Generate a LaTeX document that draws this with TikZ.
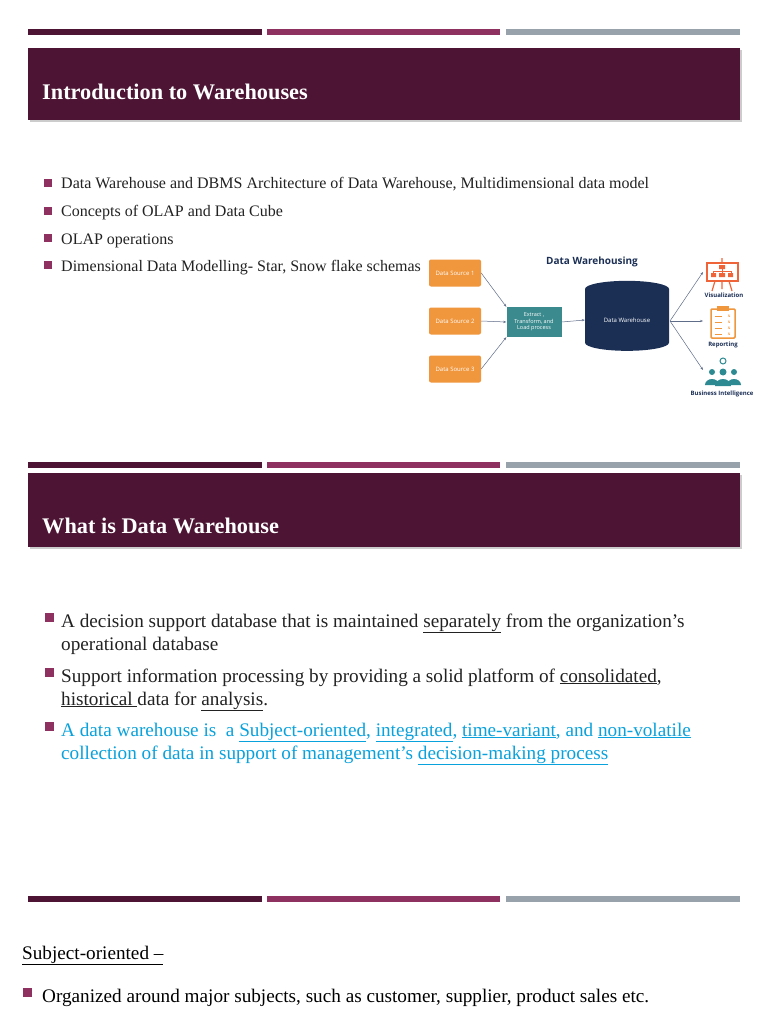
\documentclass[tikz,border=0pt]{standalone}
\usepackage{fontspec}
\setmainfont{Liberation Serif}
\newfontfamily\uisans{Open Sans}
\usetikzlibrary{shapes.geometric,arrows.meta}
\definecolor{plum}{HTML}{4D1533}
\definecolor{mag}{HTML}{8E3060}
\definecolor{greybar}{HTML}{98A2AA}
\definecolor{orng}{HTML}{F0963C}
\definecolor{teal}{HTML}{3A8A8E}
\definecolor{navy}{HTML}{1B2F55}
\definecolor{cyanT}{HTML}{0AA2DC}
\definecolor{iconO}{HTML}{F0643A}
\definecolor{iconT}{HTML}{2E8A92}
\definecolor{txt}{HTML}{222222}
\tikzset{
 bullet/.style={fill=mag,minimum size=8pt,inner sep=0pt,anchor=center},
 item/.style={anchor=base west,inner sep=0pt,text=txt},
 src/.style={fill=orng,rounded corners=2pt,minimum width=52pt,minimum height=27pt,inner sep=0pt,text=white,font=\uisans\fontsize{6}{7}\selectfont},
 con/.style={draw=navy!70,line width=0.5pt,-{Stealth[length=3pt]}},
 ilab/.style={font=\uisans\bfseries\fontsize{6}{7}\selectfont,text=navy,inner sep=0pt}
}
\begin{document}
\begin{tikzpicture}[x=1pt,y=-1pt]
\useasboundingbox (0,0) rectangle (768,1024);
\fill[white] (0,0) rectangle (768,1024);
\foreach \y in {29,462,896}{
 \fill[plum] (28,\y) rectangle (262,\y+6);
 \fill[mag] (267,\y) rectangle (500,\y+6);
 \fill[greybar] (506,\y) rectangle (740,\y+6);
}
\fill[gray!40] (30,50) rectangle (742,122);
\fill[plum] (28,48) rectangle (740,120);
\fill[gray!40] (30,475) rectangle (742,549);
\fill[plum] (28,473) rectangle (740,547);
\node[anchor=base west,text=white,font=\bfseries\fontsize{22.3}{25}\selectfont,inner sep=0pt] (t1) at (42,100) {Introduction to Warehouses};
\node[anchor=base west,text=white,font=\bfseries\fontsize{22.3}{25}\selectfont,inner sep=0pt] (t2) at (42,533) {What is Data Warehouse};
\foreach \y/\s [count=\i] in {189/{Data Warehouse and DBMS Architecture of Data Warehouse, Multidimensional data model},217/{Concepts of OLAP and Data Cube},244/{OLAP operations},271/{Dimensional Data Modelling- Star, Snow flake schemas}}{
 \node[bullet] (b\i) at (48,\y-6) {};
 \node[item,font=\fontsize{16}{19}\selectfont] (i\i) at (61,\y) {\s};
}
% diagram
\node[font=\uisans\bfseries\fontsize{10}{12}\selectfont,text=navy] (dwt) at (592,262) {Data Warehousing};
\node[src] (s1) at (455,273) {Data Source 1};
\node[src] (s2) at (455,321) {Data Source 2};
\node[src] (s3) at (455,369) {Data Source 3};
\node[fill=teal,minimum width=55pt,minimum height=30pt,inner sep=0pt,text=white,align=center,font=\uisans\fontsize{5.5}{6.5}\selectfont] (etl) at (534,322) {Extract ,\\Transform, and\\Load process};
\node[cylinder,shape border rotate=90,aspect=0.35,fill=navy,minimum width=84pt,minimum height=70pt,inner sep=0pt,text=white,font=\uisans\fontsize{6}{7}\selectfont] (dw) at (627,320) {Data Warehouse};
\draw[con] (s1.east) -- (etl.north west);
\draw[con] (s2.east) -- (etl.west);
\draw[con] (s3.east) -- (etl.south west);
\draw[con] (etl.east) -- (dw.west);
\coordinate (fan) at (670,321);
\coordinate (e1) at (703,272);
\coordinate (e2) at (703,321);
\coordinate (e3) at (703,370);
\draw[con] (fan) -- (e1);
\draw[con] (fan) -- (e2);
\draw[con] (fan) -- (e3);
% visualization icon
\draw[iconO,line width=1.5pt] (707,263) rectangle (738,281);
\draw[iconO,line width=1.2pt] (722,258) -- (722,263) (715,281) -- (712,291) (729,281) -- (732,291) (722,281)--(722,289);
\fill[iconO] (719,265) rectangle (725,269) (711,273) rectangle (716,277) (719,273) rectangle (725,277) (728,273) rectangle (733,277);
\draw[iconO,line width=0.8pt] (722,269)--(722,273) (713,273)--(713,271)--(731,271)--(731,273);
\node[ilab] (vl) at (724,295) {Visualization};
% reporting icon
\draw[orng,line width=1.5pt,rounded corners=1pt] (711,309) rectangle (735,338);
\fill[orng] (717,306) rectangle (729,311);
\foreach \yy in {316,322,328,334}{\draw[orng,line width=1pt] (715,\yy)--(722,\yy); \node[text=orng,inner sep=0pt,font=\fontsize{5}{5}\selectfont\bfseries] at (729,\yy) {x};}
\node[ilab] (rl) at (723,345) {Reporting};
% BI icon
\draw[iconT,line width=1pt] (723,361) circle (3pt);
\foreach \xx/\r in {712/3,734/3,723/3.5}{\fill[iconT] (\xx,372) circle (\r pt);}
\fill[iconT] (705,385) arc (180:360:7 and 6) -- cycle;
\fill[iconT] (727,385) arc (180:360:7 and 6) -- cycle;
\fill[iconT] (715,386) arc (180:360:8 and 7) -- cycle;
\node[ilab] (bl) at (722,394) {Business Intelligence};
% section 2
\tikzset{big/.style={item,font=\fontsize{19.2}{23}\selectfont,align=left}}
\node[bullet,minimum size=9pt] (c1) at (49,617) {};
\node[big] (j1) at (61,627) {A decision support database that is maintained \underline{separately} from the organization's};
\node[big] (j1b) at (61,650) {operational database};
\node[bullet,minimum size=9pt] (c2) at (49,672) {};
\node[big] (j2) at (61,682) {Support information processing by providing a solid platform of \underline{consolidated},};
\node[big] (j2b) at (61,705) {\underline{historical }data for \underline{analysis}.};
\node[bullet,minimum size=9pt] (c3) at (49,726) {};
\node[big,text=cyanT] (j3) at (61,736) {A data warehouse is\ \ a \underline{Subject-oriented}, \underline{integrated}, \underline{time-variant}, and \underline{non-volatile}};
\node[big,text=cyanT] (j3b) at (61,759) {collection of data in support of management's \underline{decision-making process}};
% section 3
\node[item,font=\fontsize{19.2}{22}\selectfont,text=black] (so) at (22,959) {\underline{Subject-oriented –}};
\node[bullet,minimum size=9pt] (d1) at (27,992) {};
\node[item,font=\fontsize{19.2}{22}\selectfont,text=black] (k1) at (42,1002) {Organized around major subjects, such as customer, supplier, product sales etc.};
\end{tikzpicture}
\end{document}
